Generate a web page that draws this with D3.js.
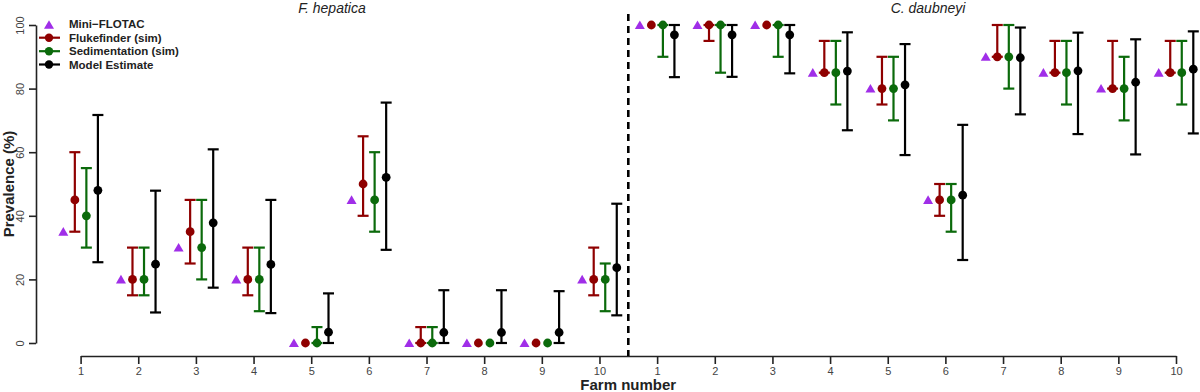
<!DOCTYPE html>
<html>
<head>
<meta charset="utf-8">
<script src="https://cdn.jsdelivr.net/npm/d3@7"></script>
<style>
  html, body { margin: 0; padding: 0; background: #fff; }
  svg { display: block; font-family: "Liberation Sans", Arial, sans-serif; }
</style>
</head>
<body>
<svg id="chart" width="1200" height="392"></svg>
<script>
// ---------- data ----------
const farmLabels = ["1","2","3","4","5","6","7","8","9","10","1","2","3","4","5","6","7","8","9","10"];
const speciesLabels = ["F. hepatica", "C. daubneyi"];
const yTicks = [0, 20, 40, 60, 80, 100];
const seriesNames = ["Mini\u2212FLOTAC", "Flukefinder (sim)", "Sedimentation (sim)", "Model Estimate"];

const miniFlotac  = [35,20,30,20,0,45,0,0,0,20, 100,100,100,85,80,45,90,85,80,85];

const fluke       = [45,20,35,20,0,50,0,0,0,20, 100,100,100,85,80,45,90,85,80,85];
const flukeLo     = [35,15,25,15,0,40,0,0,0,15, 100,95,100,85,75,40,90,85,80,85];
const flukeHi     = [60,30,45,30,0,65,5,0,0,30, 100,100,100,95,90,50,100,95,95,95];

const sedim       = [40,20,30,20,0,45,0,0,0,20, 100,100,100,85,80,45,90,85,80,85];
const sedimLo     = [30,15,20,10,0,35,0,0,0,10, 90,85,90,75,70,35,80,75,70,75];
const sedimHi     = [55,30,45,30,5,60,5,0,0,25, 100,100,100,95,90,50,100,95,90,95];

const model       = [48,24.8,37.8,24.7,3.4,52.1,3.3,3.3,3.3,23.7, 96.9,96.9,96.9,85.5,81.2,46.5,89.7,85.6,82,86.1];
const modelLo     = [25.4,9.6,17.4,9.4,0,29.3,0,0,0,8.7, 83.6,83.7,84.8,66.9,59.1,26.1,71.9,65.7,59.3,65.9];
const modelHi     = [71.7,47.9,60.9,45,15.6,75.6,16.6,16.6,16.3,43.8, 100,100,100,97.7,94,68.6,99.2,97.6,95.5,98];

// ---------- styles ----------
const colPurple = "#a02ee8";
const colRed = "#8f0000";
const colGreen = "#0b6a0b";
const colBlack = "#000000";

const svg = d3.select("#chart");
const x = d3.scaleLinear().domain([1, 20]).range([80.6, 1176]);
const y = d3.scaleLinear().domain([0, 100]).range([343, 25]);
const unit = x(2) - x(1);

// ---------- axes ----------
const xAxis = d3.axisBottom(x)
  .tickValues(d3.range(1, 21))
  .tickFormat((d) => farmLabels[d - 1])
  .tickSizeOuter(0)
  .tickSizeInner(8)
  .tickPadding(3);
const gx = svg.append("g").attr("transform", "translate(0,356)").call(xAxis);
gx.select(".domain").attr("stroke", "#222").attr("stroke-width", 1.6);
gx.selectAll(".tick line").attr("stroke", "#222").attr("stroke-width", 1.6);
gx.selectAll(".tick text").attr("fill", "#444").style("font-size", "11px").style("font-family", "Liberation Sans, Arial, sans-serif");

const yAxis = d3.axisLeft(y).tickValues(yTicks).tickSizeOuter(0).tickSizeInner(7).tickFormat(d3.format("d"));
const gy = svg.append("g").attr("transform", "translate(36,0)").call(yAxis);
gy.select(".domain").attr("stroke", "#222").attr("stroke-width", 1.6);
gy.selectAll(".tick line").attr("stroke", "#222").attr("stroke-width", 1.6);
gy.selectAll(".tick text")
  .attr("fill", "#444")
  .attr("x", null).attr("dy", null)
  .attr("text-anchor", "middle")
  .attr("transform", "translate(-10,0) rotate(-90)")
  .attr("dy", "-0.2em")
  .style("font-size", "11px").style("font-family", "Liberation Sans, Arial, sans-serif");

// axis titles
svg.append("text")
  .attr("x", x(10.5)).attr("y", 390)
  .attr("text-anchor", "middle")
  .attr("font-weight", "bold").attr("font-size", 15).attr("fill", "#222")
  .text("Farm number");
svg.append("text")
  .attr("transform", `translate(14,${y(50) + 0}) rotate(-90)`)
  .attr("text-anchor", "middle")
  .attr("font-weight", "bold").attr("font-size", 15).attr("fill", "#222")
  .text("Prevalence (%)");

// species titles
svg.append("text").attr("x", 332).attr("y", 13).attr("text-anchor", "middle")
  .attr("font-style", "italic").attr("font-size", 14).attr("fill", "#222").text(speciesLabels[0]);
svg.append("text").attr("x", 928).attr("y", 13).attr("text-anchor", "middle")
  .attr("font-style", "italic").attr("font-size", 14).attr("fill", "#222").text(speciesLabels[1]);

// dashed separator
svg.append("line")
  .attr("x1", x(10.5)).attr("x2", x(10.5))
  .attr("y1", 14).attr("y2", 356)
  .attr("stroke", "#000").attr("stroke-width", 2.6)
  .attr("stroke-dasharray", "7,5");

// ---------- marks ----------
const idx = d3.range(20);
function trianglePath(cx, cy) {
  return `M${cx - 5},${cy + 4}L${cx + 5},${cy + 4}L${cx},${cy - 4.6}Z`;
}

const plot = svg.append("g");

// Mini-FLOTAC triangles
plot.selectAll("path.tri").data(idx).join("path")
  .attr("class", "tri")
  .attr("d", (i) => trianglePath(x(i + 1) - 0.3 * unit, y(miniFlotac[i])))
  .attr("fill", colPurple);

function drawSeries(vals, lo, hi, offset, color) {
  const g = plot.append("g");
  const capW = 5.5;
  const withBar = idx.filter((i) => hi[i] > lo[i]);
  const cx = (i) => x(i + 1) + offset * unit;
  g.selectAll("line.bar").data(withBar).join("line")
    .attr("x1", cx).attr("x2", cx)
    .attr("y1", (i) => y(lo[i])).attr("y2", (i) => y(hi[i]))
    .attr("stroke", color).attr("stroke-width", 2.2);
  g.selectAll("line.capl").data(withBar).join("line")
    .attr("x1", (i) => cx(i) - capW).attr("x2", (i) => cx(i) + capW)
    .attr("y1", (i) => y(lo[i])).attr("y2", (i) => y(lo[i]))
    .attr("stroke", color).attr("stroke-width", 2.2);
  g.selectAll("line.caph").data(withBar).join("line")
    .attr("x1", (i) => cx(i) - capW).attr("x2", (i) => cx(i) + capW)
    .attr("y1", (i) => y(hi[i])).attr("y2", (i) => y(hi[i]))
    .attr("stroke", color).attr("stroke-width", 2.2);
  g.selectAll("circle").data(idx).join("circle")
    .attr("cx", cx).attr("cy", (i) => y(vals[i]))
    .attr("r", 4.4).attr("fill", color);
}
drawSeries(fluke, flukeLo, flukeHi, -0.1, colRed);
drawSeries(sedim, sedimLo, sedimHi, 0.1, colGreen);
drawSeries(model, modelLo, modelHi, 0.3, colBlack);

// ---------- legend ----------
const legend = svg.append("g");
const legY = [24.3, 37.7, 51.2, 64.5];
const legCols = [colPurple, colRed, colGreen, colBlack];
legend.append("path").attr("d", trianglePath(49, legY[0] + 0.5)).attr("fill", colPurple);
[1, 2, 3].forEach((k) => {
  legend.append("line").attr("x1", 39).attr("x2", 60).attr("y1", legY[k]).attr("y2", legY[k])
    .attr("stroke", legCols[k]).attr("stroke-width", 2.2);
  legend.append("circle").attr("cx", 49).attr("cy", legY[k]).attr("r", 4.2).attr("fill", legCols[k]);
});
seriesNames.forEach((name, k) => {
  legend.append("text").attr("x", 69).attr("y", legY[k] + 4)
    .attr("font-weight", "bold").attr("font-size", 11.5).attr("fill", "#222")
    .text(name);
});
</script>
</body>
</html>
